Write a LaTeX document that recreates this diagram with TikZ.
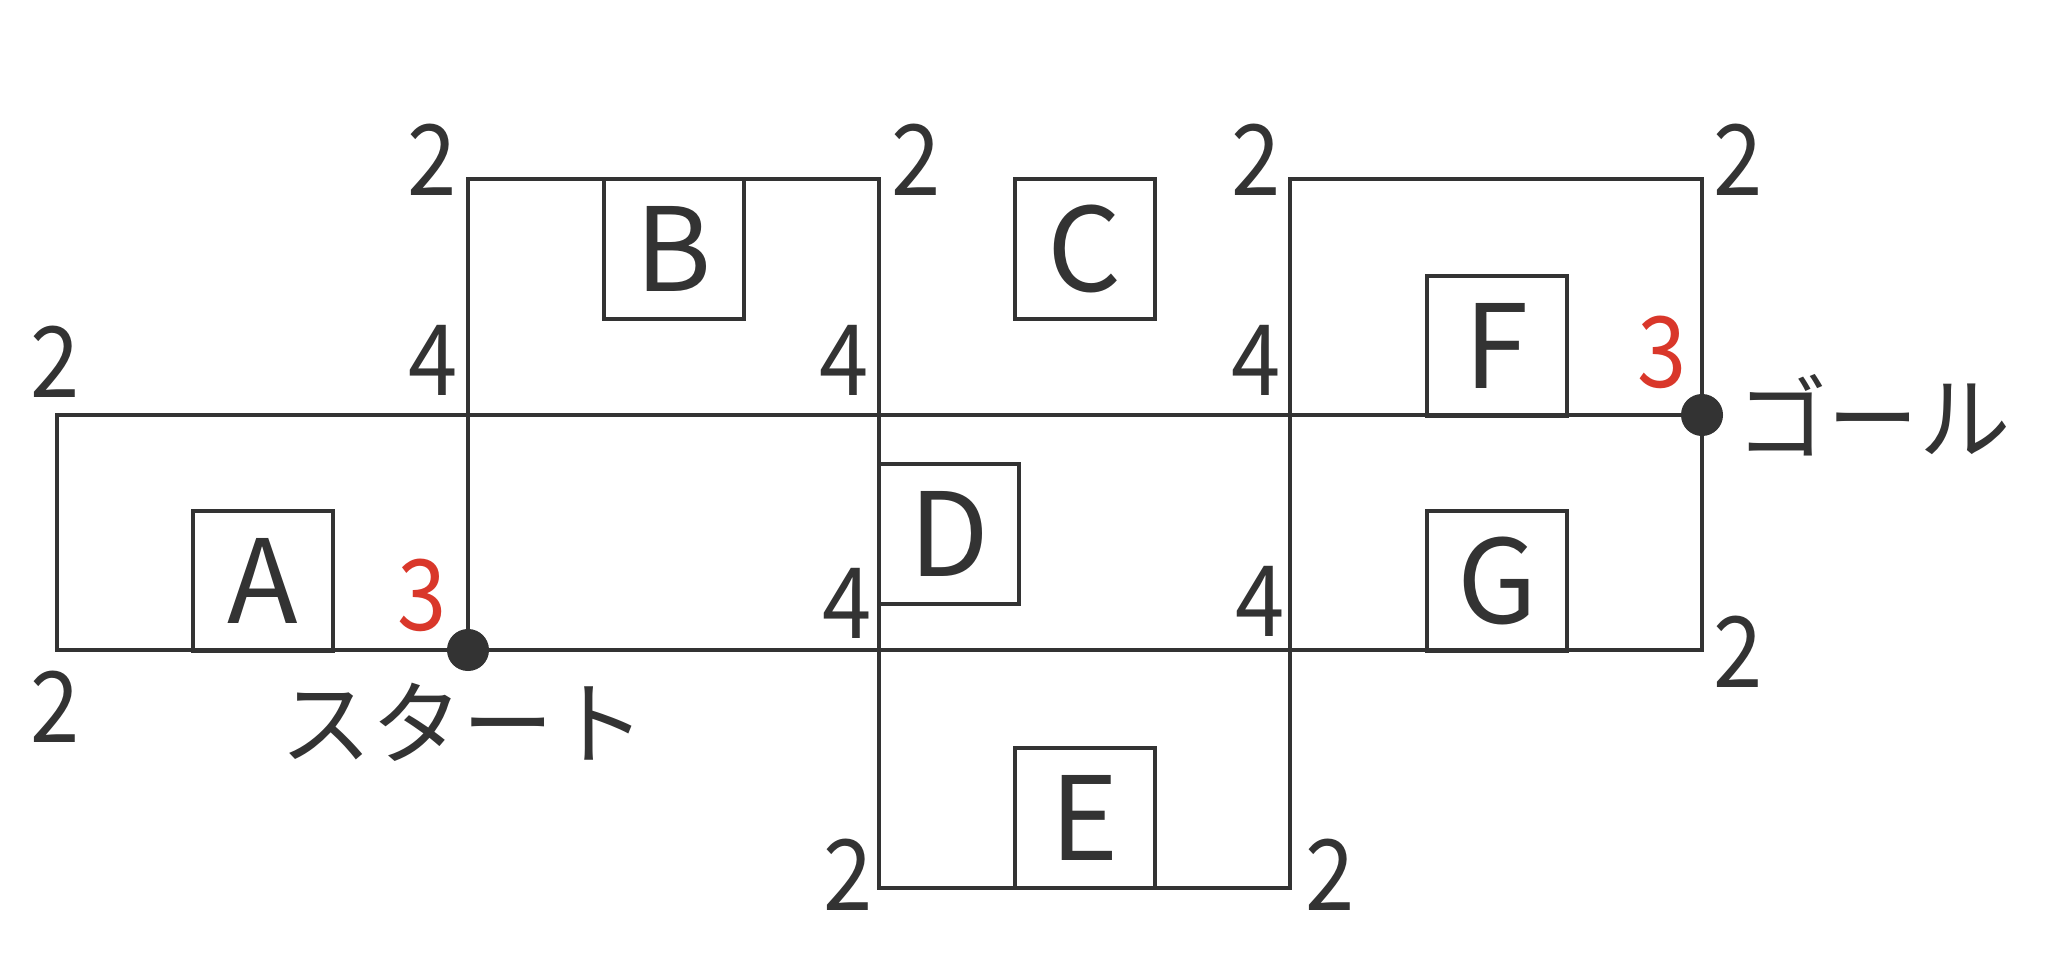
\documentclass[tikz,border=0pt]{standalone}
\usepackage{fontspec}
\setmainfont{Noto Sans CJK JP}
\newfontfamily\condfont[FakeStretch=0.9]{Noto Sans CJK JP}
\usetikzlibrary{positioning}
\definecolor{ink}{HTML}{333333}
\definecolor{redmark}{HTML}{D9372A}

\begin{document}
\begin{tikzpicture}[x=0.01cm,y=-0.01cm,
  wall/.style={draw=ink,line width=0.9pt},
  panel/.style={draw=ink,line width=0.9pt,minimum size=1.4cm,inner sep=0pt,text=ink,font=\fontsize{33}{33}\selectfont},
  num/.style={inner sep=0pt,text=ink,font=\condfont\fontsize{28}{28}\selectfont},
  rnum/.style={num,text=redmark},
  dot/.style={circle,fill=ink,inner sep=0pt,minimum size=0.42cm},
  word/.style={inner sep=0pt,text=ink,font=\fontsize{26}{26}\selectfont}]
  \useasboundingbox (0,0) rectangle (2048,973);

  % Cells
  \draw[wall] (57,415) rectangle (1702,650);
  \draw[wall] (468,179) rectangle (879,415);
  \draw[wall] (1290,179) rectangle (1702,415);
  \draw[wall] (879,650) rectangle (1290,888);
  \draw[wall] (468,415) -- (468,650);
  \draw[wall] (879,415) -- (879,650);
  \draw[wall] (1290,415) -- (1290,650);

  % Boxes
  \node[panel] (A) at (263,581) {A};
  \node[panel] (B) at (674,249) {B};
  \node[panel] (C) at (1085,249) {C};
  \node[panel] (D) at (949,534) {D};
  \node[panel] (E) at (1085,818) {E};
  \node[panel] (F) at (1497,346) {F};
  \node[panel] (G) at (1497,581) {G};

  % Start and goal
  \node[dot] (start) at (468,650) {};
  \node[dot] (goal) at (1702,415) {};
  \node[word,below=0.11cm of start,xshift=-0.05cm] (startlbl) {スタート};
  \node[word,right=0.12cm of goal] (goallbl) {ゴール};
  \node[rnum] (s3) at (422,595) {3};
  \node[rnum] (g3) at (1662,352) {3};

  % Numbers
  \node[num] (n1) at (55,362) {2};
  \node[num] (n2) at (55,707) {2};
  \node[num] (n3) at (432,160) {2};
  \node[num] (n4) at (916,160) {2};
  \node[num] (n5) at (1256,160) {2};
  \node[num] (n6) at (1738,160) {2};
  \node[num] (n7) at (433,360) {4};
  \node[num] (n8) at (844,360) {4};
  \node[num] (n9) at (1256,360) {4};
  \node[num] (n10) at (847,603) {4};
  \node[num] (n11) at (1260,601) {4};
  \node[num] (n12) at (1738,652) {2};
  \node[num] (n13) at (848,875) {2};
  \node[num] (n14) at (1330,875) {2};
\end{tikzpicture}
\end{document}
